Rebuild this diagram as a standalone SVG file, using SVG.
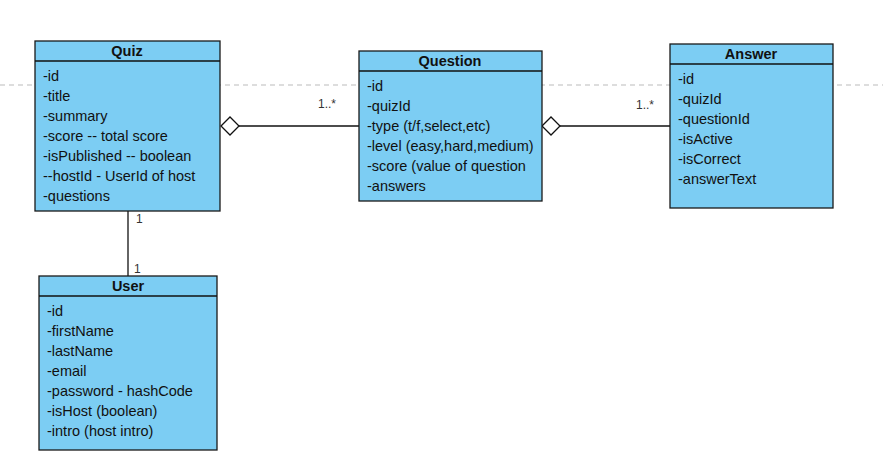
<svg xmlns="http://www.w3.org/2000/svg" width="883" height="471" viewBox="0 0 883 471">
<style>
.box{fill:#7ccdf3;stroke:#1a1a1a;stroke-width:1.3}
.t{font-family:"Liberation Sans",Arial,sans-serif;font-size:14.5px;fill:#111}
.h{font-weight:bold;text-anchor:middle}
.ln{stroke:#111;stroke-width:1.3;fill:none}
.m{font-family:"Liberation Sans",Arial,sans-serif;font-size:12px;fill:#333}
</style>
<rect width="883" height="471" fill="#fff"/>
<line x1="0" y1="85" x2="883" y2="85" stroke="#bbb" stroke-dasharray="5,4"/>
<g id="connectors">
<line class="ln" x1="239" y1="126" x2="359" y2="126"/>
<path class="ln" d="M221,126 L230,117 L239,126 L230,135 Z" fill="#fff"/>
<text class="m" x="318" y="108">1..*</text>
<line class="ln" x1="560" y1="126" x2="670" y2="126"/>
<path class="ln" d="M542,126 L551,117 L560,126 L551,135 Z" fill="#fff"/>
<text class="m" x="636" y="109">1..*</text>
<line class="ln" x1="128" y1="211" x2="128" y2="276"/>
<text class="m" x="136" y="223">1</text>
<text class="m" x="134" y="273">1</text>
</g>
<g id="quiz">
<rect class="box" x="35" y="41" width="185" height="170"/>
<line class="ln" x1="35" y1="61" x2="220" y2="61"/>
<text class="t h" x="127" y="56">Quiz</text>
<text class="t" x="43" y="81">-id</text>
<text class="t" x="43" y="101">-title</text>
<text class="t" x="43" y="121">-summary</text>
<text class="t" x="43" y="141">-score -- total score</text>
<text class="t" x="43" y="161">-isPublished -- boolean</text>
<text class="t" x="43" y="181">--hostId - UserId of host</text>
<text class="t" x="43" y="201">-questions</text>
</g>
<g id="question">
<rect class="box" x="359" y="51" width="183" height="150"/>
<line class="ln" x1="359" y1="71" x2="542" y2="71"/>
<text class="t h" x="450" y="66">Question</text>
<text class="t" x="367" y="91">-id</text>
<text class="t" x="367" y="111">-quizId</text>
<text class="t" x="367" y="131">-type (t/f,select,etc)</text>
<text class="t" x="367" y="151">-level (easy,hard,medium)</text>
<text class="t" x="367" y="171">-score  (value of question</text>
<text class="t" x="367" y="191">-answers</text>
</g>
<g id="answer">
<rect class="box" x="670" y="44" width="163" height="164"/>
<line class="ln" x1="670" y1="64" x2="833" y2="64"/>
<text class="t h" x="751" y="59">Answer</text>
<text class="t" x="678" y="84">-id</text>
<text class="t" x="678" y="104">-quizId</text>
<text class="t" x="678" y="124">-questionId</text>
<text class="t" x="678" y="144">-isActive</text>
<text class="t" x="678" y="164">-isCorrect</text>
<text class="t" x="678" y="184">-answerText</text>
</g>
<g id="user">
<rect class="box" x="39" y="276" width="178" height="174"/>
<line class="ln" x1="39" y1="296" x2="217" y2="296"/>
<text class="t h" x="128" y="291">User</text>
<text class="t" x="47" y="316">-id</text>
<text class="t" x="47" y="336">-firstName</text>
<text class="t" x="47" y="356">-lastName</text>
<text class="t" x="47" y="376">-email</text>
<text class="t" x="47" y="396">-password - hashCode</text>
<text class="t" x="47" y="416">-isHost (boolean)</text>
<text class="t" x="47" y="436">-intro (host intro)</text>
</g>
</svg>
